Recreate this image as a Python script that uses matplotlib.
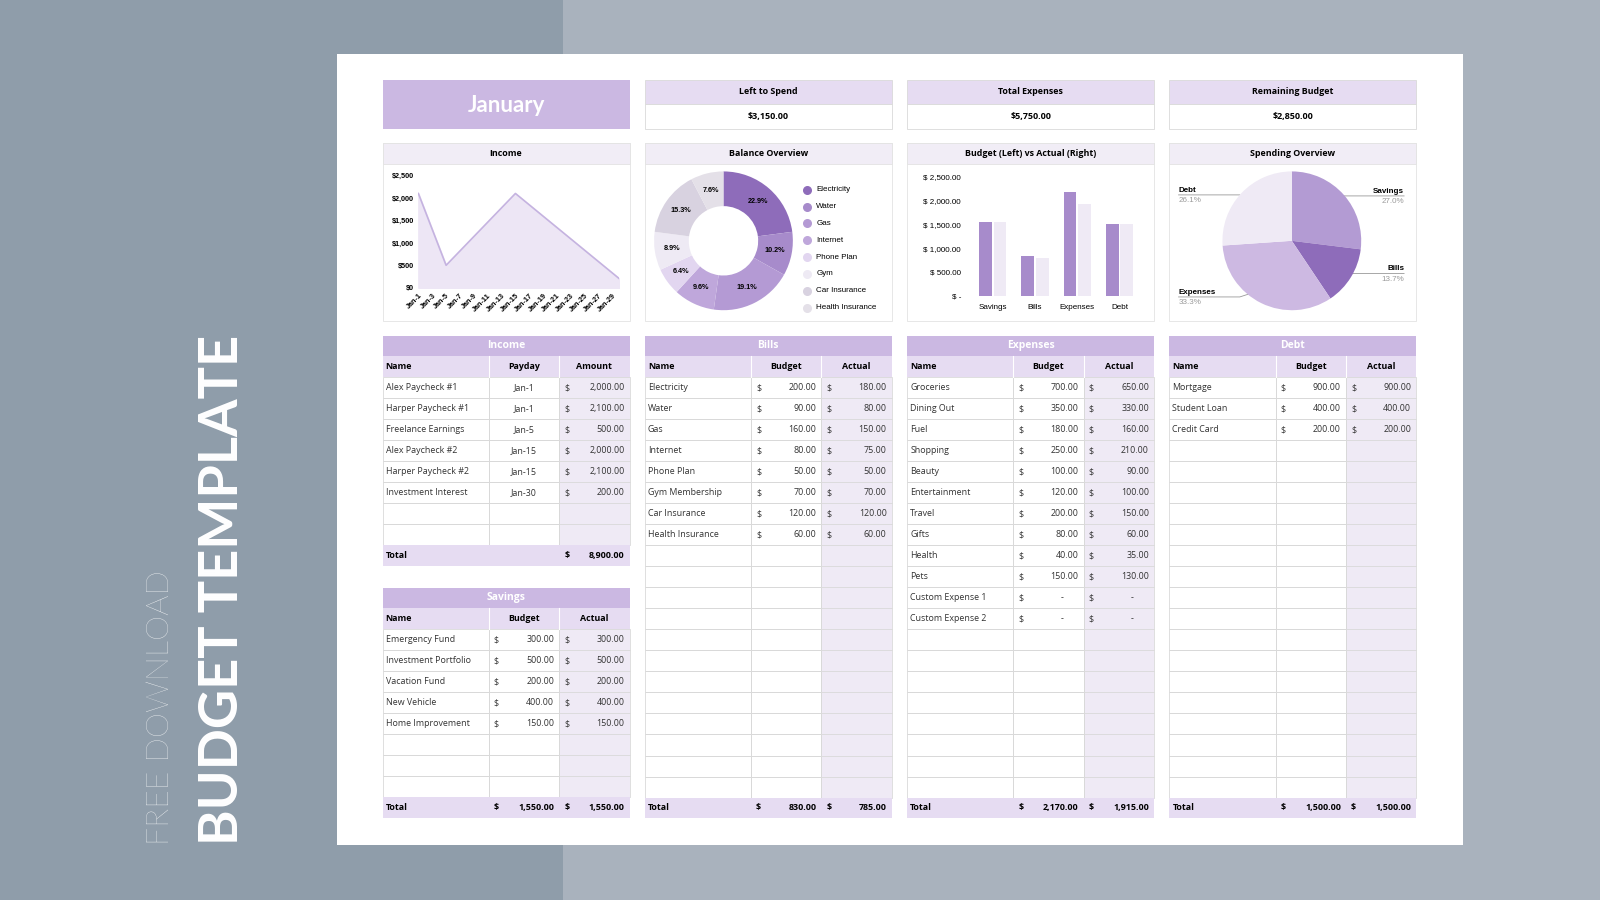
import matplotlib
matplotlib.use("Agg")
import matplotlib.pyplot as plt
from matplotlib.patches import Rectangle
import numpy as np

plt.rcParams["font.family"] = "Open Sans"

W, H = 1568, 882

# ---- data ----
header_labels = ["Left to Spend", "Total Expenses", "Remaining Budget"]
header_values = ["$3,150.00", "$5,750.00", "$2,850.00"]

income_names = ["Alex Paycheck #1", "Harper Paycheck #1", "Freelance Earnings",
                "Alex Paycheck #2", "Harper Paycheck #2", "Investment Interest"]
income_days = ["Jan-1", "Jan-1", "Jan-5", "Jan-15", "Jan-15", "Jan-30"]
income_amounts = [2000, 2100, 500, 2000, 2100, 200]

line_days = [1, 5, 15, 30]
line_values = [2100, 500, 2100, 200]

savings_names = ["Emergency Fund", "Investment Portfolio", "Vacation Fund",
                 "New Vehicle", "Home Improvement"]
savings_budget = [300, 500, 200, 400, 150]
savings_actual = [300, 500, 200, 400, 150]

bills_names = ["Electricity", "Water", "Gas", "Internet", "Phone Plan",
               "Gym Membership", "Car Insurance", "Health Insurance"]
bills_budget = [200, 90, 160, 80, 50, 70, 120, 60]
bills_actual = [180, 80, 150, 75, 50, 70, 120, 60]

exp_names = ["Groceries", "Dining Out", "Fuel", "Shopping", "Beauty",
             "Entertainment", "Travel", "Gifts", "Health", "Pets",
             "Custom Expense 1", "Custom Expense 2"]
exp_budget = [700, 350, 180, 250, 100, 120, 200, 80, 40, 150, None, None]
exp_actual = [650, 330, 160, 210, 90, 100, 150, 60, 35, 130, None, None]

debt_names = ["Mortgage", "Student Loan", "Credit Card"]
debt_budget = [900, 400, 200]
debt_actual = [900, 400, 200]

donut_labels = ["Electricity", "Water", "Gas", "Internet", "Phone Plan",
                "Gym", "Car Insurance", "Health Insurance"]
donut_colors = ["#8e6cba", "#a78bcb", "#b49ad4", "#bfa7db", "#e2d6f0",
                "#eeeaf4", "#d8d2e0", "#e4e0e8"]

bar_cats = ["Savings", "Bills", "Expenses", "Debt"]
spend_colors = ["#b39bd3", "#8e6cba", "#cdb9e2", "#efeaf5"]

PURPLE = "#cbb8e2"
LIGHT = "#e6dcf2"
PALE = "#efeaf5"
GRID = "#d9d9d9"
FS = 6.4

fig = plt.figure(figsize=(16, 9), dpi=100)
bg = fig.add_axes([0, 0, 1, 1])
bg.set_xlim(0, W)
bg.set_ylim(H, 0)
bg.axis("off")


def rect(x0, y0, x1, y1, fc, ec="none", lw=0.6, z=1):
    bg.add_patch(Rectangle((x0, y0), x1 - x0, y1 - y0, fc=fc, ec=ec, lw=lw, zorder=z))


def sub(x0, y0, x1, y1):
    return fig.add_axes([x0 / W, 1 - y1 / H, (x1 - x0) / W, (y1 - y0) / H])


# background
rect(0, 0, 552, H, "#8f9daa", z=0)
rect(552, 0, W, H, "#a9b2bd", z=0)
rect(330, 53, 1434, 828, "white", z=0.5)
bg.text(157, 828, "FREE DOWNLOAD", rotation=90, color="white", fontsize=23,
        fontweight="light", va="bottom", ha="center", family="Lato")
bg.text(218, 828, "BUDGET TEMPLATE", rotation=90, color="white", fontsize=39,
        fontweight="bold", va="bottom", ha="center", family="Lato")

# header boxes
rect(375, 78, 617, 126, PURPLE)
bg.text(496, 103, "January", color="white", fontsize=16, fontweight="bold",
        ha="center", va="center", family="Lato")
for i, (lab, val) in enumerate(zip(header_labels, header_values)):
    x0 = 632 + i * 257
    rect(x0, 78, x0 + 242, 102, LIGHT, ec=GRID)
    rect(x0, 102, x0 + 242, 126, "white", ec=GRID)
    bg.text(x0 + 121, 90, lab, fontsize=FS, fontweight="bold", ha="center", va="center")
    bg.text(x0 + 121, 114, val, fontsize=FS, fontweight="bold", ha="center", va="center")

# chart panels
chart_titles = ["Income", "Balance Overview", "Budget (Left) vs Actual (Right)",
                "Spending Overview"]
for i, t in enumerate(chart_titles):
    x0 = 375 + i * 257
    rect(x0, 140, x0 + 242, 315, "white", ec="#e3e3e3")
    rect(x0, 140, x0 + 242, 161, "#f1edf6", ec="#e3e3e3")
    bg.text(x0 + 121, 150.5, t, fontsize=FS, fontweight="bold", ha="center", va="center")

tick_font = dict(fontsize=5.2, fontweight="bold", family="Liberation Sans")

# income line chart
ax = sub(410, 172, 607, 282)
ax.plot(line_days, line_values, color="#c5b3e0", lw=1.2)
ax.fill_between(line_days, line_values, color="#ede6f5")
ax.set_xlim(1, 30)
ax.set_ylim(0, 2500)
ax.set_yticks(range(0, 2501, 500))
ax.set_yticklabels([f"${v:,}" for v in range(0, 2501, 500)], **tick_font)
ax.set_xticks(range(1, 30, 2))
ax.set_xticklabels([f"Jan-{d}" for d in range(1, 30, 2)], rotation=45,
                   ha="right", rotation_mode="anchor", **tick_font)
ax.tick_params(length=0, pad=3)
for s in ax.spines.values():
    s.set_visible(False)
ax.patch.set_alpha(0)

# balance donut
cx, cy, r = 709, 236, 68
ax = sub(cx - r, cy - r, cx + r, cy + r)
wedges, texts = ax.pie(bills_actual, colors=donut_colors, startangle=90,
                       counterclock=False, wedgeprops=dict(width=0.5))
ax.set_xlim(-1, 1)
ax.set_ylim(-1, 1)
tot = sum(bills_actual)
for w, v in zip(wedges, bills_actual):
    ang = np.deg2rad((w.theta1 + w.theta2) / 2)
    ax.text(0.75 * np.cos(ang), 0.75 * np.sin(ang), f"{v / tot * 100:.1f}%",
            ha="center", va="center", **tick_font)
for i, (lab, c) in enumerate(zip(donut_labels, donut_colors)):
    y = 186 + i * 16.5
    bg.scatter(791, y, s=30, color=c, zorder=3)
    bg.text(800, y, lab, fontsize=5.8, va="center", family="Liberation Sans")

# budget vs actual bars
totals_budget = [sum(savings_budget), sum(bills_budget),
                 sum(v for v in exp_budget if v), sum(debt_budget)]
totals_actual = [sum(savings_actual), sum(bills_actual),
                 sum(v for v in exp_actual if v), sum(debt_actual)]
ax = sub(950, 173, 1120, 290)
xs = np.arange(len(bar_cats))
ax.bar(xs - 0.17, totals_budget, width=0.3, color="#a78bcb")
ax.bar(xs + 0.17, totals_actual, width=0.3, color=PALE)
ax.set_ylim(0, 2500)
ax.set_xlim(-0.55, 3.55)
ax.set_yticks(range(0, 2501, 500))
ax.set_yticklabels(["$ -"] + [f"$ {v:,}.00" for v in range(500, 2501, 500)],
                   fontsize=5.8, family="Liberation Sans")
ax.set_xticks(xs)
ax.set_xticklabels(bar_cats, fontsize=5.8, family="Liberation Sans")
ax.tick_params(length=0, pad=6)
for s in ax.spines.values():
    s.set_visible(False)
ax.patch.set_alpha(0)

# spending pie
cx, cy, r = 1266, 236, 68
ax = sub(cx - r, cy - r, cx + r, cy + r)
wedges, _ = ax.pie(totals_actual, colors=spend_colors, startangle=90,
                   counterclock=False)
ax.set_xlim(-1, 1)
ax.set_ylim(-1, 1)
stot = sum(totals_actual)
label_pos = {"Savings": (1376, 191, "right"), "Bills": (1376, 267, "right"),
             "Expenses": (1155, 290, "left"), "Debt": (1155, 190, "left")}
for w, name, v in zip(wedges, bar_cats, totals_actual):
    ang = np.deg2rad((w.theta1 + w.theta2) / 2)
    px, py = cx + 0.75 * r * np.cos(ang), cy - 0.75 * r * np.sin(ang)
    lx, ly, ha = label_pos[name]
    ex = lx - 60 if ha == "right" else lx + 60
    bg.plot([lx, ex, px], [ly + 1, ly + 1, py], color="#999999", lw=0.6, zorder=3)
    bg.scatter(px, py, s=3, color="#999999", zorder=3)
    bg.text(lx, ly, name, fontsize=5.8, fontweight="bold", ha=ha, va="bottom",
            family="Liberation Sans", zorder=4)
    bg.text(lx, ly + 3, f"{v / stot * 100:.1f}%", fontsize=5.8, color="#9a9a9a",
            ha=ha, va="top", family="Liberation Sans", zorder=4)


# tables
def money(v):
    return "-" if v is None else f"{v:,.2f}"


def table(x0, y0, title, cols, rows, n_rows, total):
    xw = [x0, x0 + 104, x0 + 173, x0 + 242]
    rh = 20.6
    rect(x0, y0, x0 + 242, y0 + 20, PURPLE)
    bg.text(x0 + 121, y0 + 10, title, color="white", fontsize=7.5,
            fontweight="bold", ha="center", va="center")
    y = y0 + 20
    rect(x0, y, x0 + 242, y + rh, LIGHT)
    for c in range(3):
        ha = "left" if c == 0 else "center"
        tx = xw[0] + 3 if c == 0 else (xw[c] + xw[c + 1]) / 2
        bg.text(tx, y + rh / 2, cols[c], fontsize=FS, fontweight="bold", ha=ha, va="center")
    for c in range(1, 3):
        bg.plot([xw[c]] * 2, [y, y + rh], color="white", lw=0.8, zorder=2)
    y += rh
    for i in range(n_rows):
        yy = y + i * rh
        rect(xw[2], yy, xw[3], yy + rh, PALE)
        for c in range(3):
            rect(xw[c], yy, xw[c + 1], yy + rh, "none", ec=GRID)
        if i < len(rows):
            row = rows[i]
            bg.text(xw[0] + 3, yy + rh / 2, row[0], fontsize=FS, va="center", color="#333333")
            for c in (1, 2):
                val = row[c]
                if isinstance(val, str):
                    bg.text((xw[c] + xw[c + 1]) / 2, yy + rh / 2, val, fontsize=FS,
                            ha="center", va="center", color="#333333")
                else:
                    bg.text(xw[c] + 5, yy + rh / 2, "$", fontsize=FS, va="center", color="#333333")
                    tx = xw[c + 1] - 5 if val is not None else xw[c + 1] - 20
                    bg.text(tx, yy + rh / 2, money(val), fontsize=FS, ha="right",
                            va="center", color="#333333")
    yy = y + n_rows * rh
    rect(x0, yy, x0 + 242, yy + 20, LIGHT)
    bg.text(xw[0] + 3, yy + 10, "Total", fontsize=FS, fontweight="bold", va="center")
    for c, val in total:
        bg.text(xw[c] + 5, yy + 10, "$", fontsize=FS, fontweight="bold", va="center")
        bg.text(xw[c + 1] - 5, yy + 10, money(val), fontsize=FS, fontweight="bold",
                ha="right", va="center")


table(375, 329, "Income", ["Name", "Payday", "Amount"],
      list(zip(income_names, income_days, income_amounts)),
      8, [(2, sum(income_amounts))])
table(375, 576, "Savings", ["Name", "Budget", "Actual"],
      list(zip(savings_names, savings_budget, savings_actual)), 8,
      [(1, sum(savings_budget)), (2, sum(savings_actual))])
table(632, 329, "Bills", ["Name", "Budget", "Actual"],
      list(zip(bills_names, bills_budget, bills_actual)), 20,
      [(1, sum(bills_budget)), (2, sum(bills_actual))])
table(889, 329, "Expenses", ["Name", "Budget", "Actual"],
      list(zip(exp_names, exp_budget, exp_actual)), 20,
      [(1, totals_budget[2]), (2, totals_actual[2])])
table(1146, 329, "Debt", ["Name", "Budget", "Actual"],
      list(zip(debt_names, debt_budget, debt_actual)), 20,
      [(1, sum(debt_budget)), (2, sum(debt_actual))])

fig.savefig("out.png", dpi=100)
